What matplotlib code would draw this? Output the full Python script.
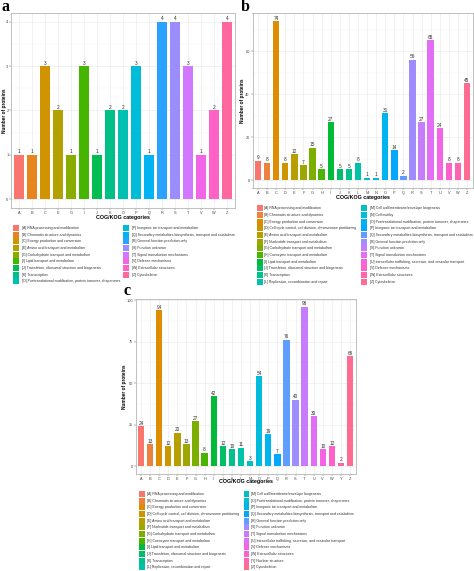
import numpy as np
import matplotlib
matplotlib.use('Agg')
import matplotlib.pyplot as plt
from matplotlib.patches import Rectangle

plt.rcParams['font.family'] = ['Liberation Sans', 'DejaVu Sans']

# COG/KOG category descriptions
cog_names = {
    'A': 'RNA processing and modification',
    'B': 'Chromatin structure and dynamics',
    'C': 'Energy production and conversion',
    'D': 'Cell cycle control, cell division, chromosome partitioning',
    'E': 'Amino acid transport and metabolism',
    'F': 'Nucleotide transport and metabolism',
    'G': 'Carbohydrate transport and metabolism',
    'H': 'Coenzyme transport and metabolism',
    'I': 'Lipid transport and metabolism',
    'J': 'Translation, ribosomal structure and biogenesis',
    'K': 'Transcription',
    'L': 'Replication, recombination and repair',
    'M': 'Cell wall/membrane/envelope biogenesis',
    'N': 'Cell motility',
    'O': 'Posttranslational modification, protein turnover, chaperones',
    'P': 'Inorganic ion transport and metabolism',
    'Q': 'Secondary metabolites biosynthesis, transport and catabolism',
    'R': 'General function prediction only',
    'S': 'Function unknown',
    'T': 'Signal transduction mechanisms',
    'U': 'Intracellular trafficking, secretion, and vesicular transport',
    'V': 'Defense mechanisms',
    'W': 'Extracellular structures',
    'Y': 'Nuclear structure',
    'Z': 'Cytoskeleton',
}

cats_a = ['A', 'B', 'C', 'E', 'G', 'I', 'J', 'K', 'O', 'P', 'Q', 'R', 'S', 'T', 'V', 'W', 'Z']
vals_a = [1, 1, 3, 2, 1, 3, 1, 2, 2, 3, 1, 4, 4, 3, 1, 2, 4]
yticks_a = [0, 1, 2, 3, 4]

cats_b = ['A', 'B', 'C', 'D', 'E', 'F', 'G', 'H', 'I', 'J', 'K', 'L',
          'M', 'N', 'O', 'P', 'Q', 'R', 'S', 'T', 'U', 'V', 'W', 'Z']
vals_b = [9, 8, 74, 8, 12, 7, 15, 5, 27, 5, 5, 8, 1, 1, 31, 14, 2, 56, 27, 65, 24, 8, 8, 45]
yticks_b = [0, 20, 40, 60]

cats_c = ['A', 'B', 'C', 'D', 'E', 'F', 'G', 'H', 'I', 'J', 'K', 'L',
          'M', 'O', 'P', 'Q', 'R', 'S', 'T', 'U', 'V', 'W', 'Y', 'Z']
vals_c = [24, 13, 94, 12, 20, 13, 27, 8, 42, 12, 10, 11, 3, 54, 19, 7, 76, 40, 96, 30, 10, 12, 2, 66]
yticks_c = [0, 25, 50, 75, 100]

W, H = 474, 571
fig = plt.figure(figsize=(W / 100, H / 100), dpi=100)


def hcl_hex(h, c=100.0, l=65.0):
    """ggplot-style HCL (polar Luv) to sRGB."""
    hr = np.deg2rad(h)
    u, v = c * np.cos(hr), c * np.sin(hr)
    Xn, Yn, Zn = 95.047, 100.0, 108.883
    d = Xn + 15 * Yn + 3 * Zn
    un, vn = 4 * Xn / d, 9 * Yn / d
    Y = Yn * ((l + 16) / 116) ** 3
    up, vp = u / (13 * l) + un, v / (13 * l) + vn
    X = Y * 9 * up / (4 * vp)
    Z = Y * (12 - 3 * up - 20 * vp) / (4 * vp)
    M = np.array([[3.240479, -1.537150, -0.498535],
                  [-0.969256, 1.875992, 0.041556],
                  [0.055648, -0.204043, 1.057311]])
    rgb = M @ (np.array([X, Y, Z]) / 100)
    rgb = np.where(rgb > 0.0031308, 1.055 * np.abs(rgb) ** (1 / 2.4) - 0.055, 12.92 * rgb)
    return tuple(np.clip(rgb, 0, 1))


def hue_pal(n):
    hues = np.linspace(15, 375, n + 1)[:n]
    return [hcl_hex(h) for h in hues]


def fx(x):
    return x / W


def fy(y):
    return 1 - y / H


def draw_panel(box, cats, vals, yticks, letter, letter_xy, ylab_x, xlab_y, legend):
    left, top, right, bottom = box
    ax = fig.add_axes([fx(left), fy(bottom), (right - left) / W, (bottom - top) / H])
    colors = hue_pal(len(cats))
    x = np.arange(len(cats))
    bars = ax.bar(x, vals, width=0.7, color=colors, zorder=2)
    ax.bar_label(bars, labels=[str(v) for v in vals], padding=0.3, fontsize=3.4, color='#333333')
    vmax = max(vals)
    ax.set_xlim(-0.6, len(cats) - 0.4)
    ax.set_ylim(-0.05 * vmax, 1.05 * vmax)
    ax.set_xticks(x)
    ax.set_xticklabels(cats)
    ax.set_yticks(yticks)
    step = yticks[1] - yticks[0]
    ax.set_yticks(np.arange(yticks[0] + step / 2, vmax * 1.05, step), minor=True)
    ax.tick_params(axis='both', which='major', labelsize=2.8, length=1.2, width=0.3,
                   pad=0.8, color='#555555', labelcolor='#444444')
    ax.tick_params(axis='y', which='minor', length=0)
    ax.grid(True, which='major', color='#e6e6e6', lw=0.4, zorder=0)
    ax.grid(True, which='minor', axis='y', color='#f0f0f0', lw=0.25, zorder=0)
    ax.set_axisbelow(True)
    for s in ax.spines.values():
        s.set_color('#b5b5b5')
        s.set_linewidth(0.6)

    fig.text(fx(letter_xy[0]), fy(letter_xy[1]), letter, family='Liberation Serif',
             fontweight='bold', fontsize=11.5, ha='left', va='center')
    fig.text(fx(ylab_x), fy((top + bottom) / 2), 'Number of proteins', rotation=90,
             fontsize=3.4, fontweight='bold', ha='center', va='center')
    fig.text(fx((left + right) / 2), fy(xlab_y), 'COG/KOG categories',
             fontsize=3.8, fontweight='bold', ha='center', va='center')

    # legend in two columns
    (lkey, ltxt), (rkey, rtxt), y0, n_left = legend
    dy = 6.67
    ks = 5.8
    for i, (cat, col) in enumerate(zip(cats, colors)):
        if i < n_left:
            kx, tx, yy = lkey, ltxt, y0 + i * dy
        else:
            kx, tx, yy = rkey, rtxt, y0 + (i - n_left) * dy
        fig.add_artist(Rectangle((fx(kx), fy(yy + ks / 2)), ks / W, ks / H,
                                 transform=fig.transFigure, facecolor=col, edgecolor='none'))
        fig.text(fx(tx), fy(yy), f'[{cat}] {cog_names[cat]}', fontsize=2.5,
                 color='#333333', ha='left', va='center')
    return ax


draw_panel((11.2, 13, 234.8, 208), cats_a, vals_a, yticks_a, 'a', (1, 7), 4.5, 217.5,
           ((13, 22), (123, 131.5), 228, 9))
draw_panel((252.5, 13, 472.5, 188), cats_b, vals_b, yticks_b, 'b', (241, 7), 243, 197.5,
           ((257, 264.5), (361, 369.7), 208.3, 12))
draw_panel((135.5, 298.7, 355.5, 474), cats_c, vals_c, yticks_c, 'c', (123, 291), 124.5, 482,
           ((139.3, 147.3), (243.7, 251.3), 494, 12))

fig.savefig('out.png', dpi=100)
